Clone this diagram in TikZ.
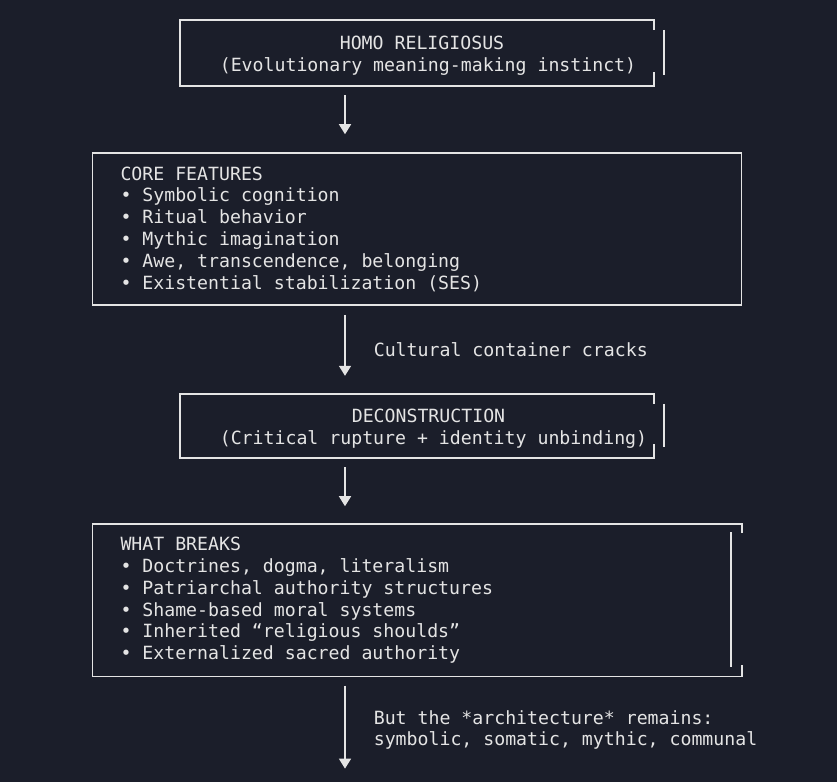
\documentclass[tikz,border=0pt]{standalone}
\usepackage{fontspec}
\setmonofont{DejaVu Sans Mono}
\usetikzlibrary{arrows.meta,positioning}
\definecolor{nightBg}{RGB}{27,30,42}
\definecolor{chalk}{RGB}{228,228,228}

\begin{document}
\begin{tikzpicture}[
    x=1pt, y=1pt,
    node distance=66pt,
    every node/.style={text=chalk, font=\ttfamily\fontsize{18.2}{21.8}\selectfont},
    title/.style={
        rectangle, align=center, inner sep=0pt,
        minimum width=474pt, minimum height=66pt
    },
    list/.style={
        rectangle, align=left, text width=593pt,
        inner xsep=28pt, inner ysep=0pt, minimum height=152pt,
        execute at begin node={\spaceskip=0pt\xspaceskip=0pt\relax}
    },
    frame/.style={draw=chalk, line width=1.6pt},
    stem/.style={
        -{Triangle[length=10pt,width=12pt]}, draw=chalk, line width=1.6pt,
        shorten <=9pt, shorten >=18pt
    },
    note/.style={align=left, inner sep=0pt}
]
\fill[nightBg] (0,0) rectangle (837,-782);
\useasboundingbox (0,0) rectangle (837,-782);

\node[title] (homo) at (417,-53) {\rule{0pt}{19pt}\hspace*{10pt}HOMO RELIGIOSUS\\\hspace*{22pt}(Evolutionary meaning-making instinct)};
\node[list, frame, below=of homo] (core) {CORE FEATURES\\• Symbolic cognition\\• Ritual behavior\\• Mythic imagination\\• Awe, transcendence, belonging\\• Existential stabilization (SES)};
\node[title, minimum height=64pt, below=88pt of core] (decon) {\rule{0pt}{19pt}\hspace*{23pt}DECONSTRUCTION\\\hspace*{33pt}(Critical rupture + identity unbinding)};
\node[list, below=of decon] (breaks) {WHAT BREAKS\\• Doctrines, dogma, literalism\\• Patriarchal authority structures\\• Shame-based moral systems\\• Inherited “religious shoulds”\\• Externalized sacred authority};
\coordinate (fin) at ([xshift=-72pt,yshift=-92pt]breaks.south);

% frames with a broken right side
\draw[frame] ([yshift=-10pt]homo.north east) |- (homo.north west) |- (homo.south east) -- ++(0,14);
\draw[frame] ([xshift=10pt,yshift=-10pt]homo.north east) -- ([xshift=10pt,yshift=11pt]homo.south east);
\draw[frame] ([yshift=-10pt]decon.north east) |- (decon.north west) |- (decon.south east) -- ++(0,14);
\draw[frame] ([xshift=10pt,yshift=-10pt]decon.north east) -- ([xshift=10pt,yshift=11pt]decon.south east);
\draw[frame] ([yshift=-9pt]breaks.north east) |- (breaks.north west) |- (breaks.south east) -- ++(0,12);
\draw[frame] ([xshift=-11pt,yshift=-8pt]breaks.north east) -- ([xshift=-11pt,yshift=10pt]breaks.south east);

\draw[stem] ([xshift=-72pt]homo.south) -- ([xshift=-72pt]core.north);
\draw[stem] ([xshift=-72pt]core.south) -- node[note, right=28pt] (crack) {Cultural container cracks} ([xshift=-72pt]decon.north);
\draw[stem] ([xshift=-72pt]decon.south) -- ([xshift=-72pt]breaks.north);
\draw[stem, shorten >=0pt] ([xshift=-72pt]breaks.south) -- node[note, pos=0.58, right=28pt] (remains) {But the *architecture* remains:\\symbolic, somatic, mythic, communal} (fin);

\end{tikzpicture}
\end{document}
